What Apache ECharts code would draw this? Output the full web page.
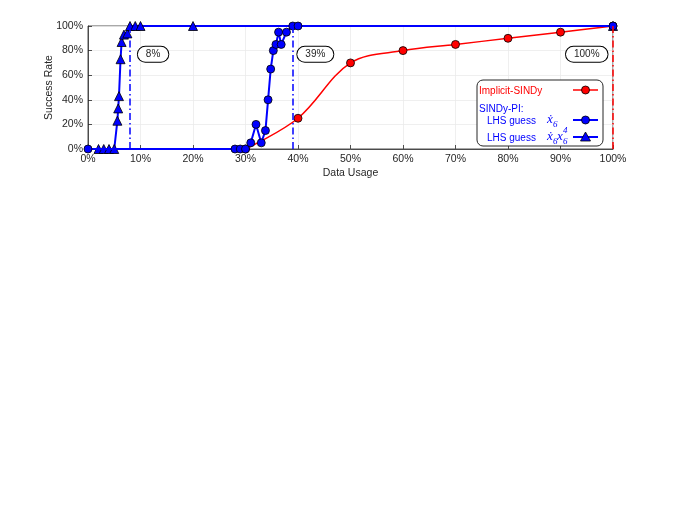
<!DOCTYPE html>
<html>
<head>
<meta charset="utf-8">
<script src="https://cdn.jsdelivr.net/npm/echarts@6/dist/echarts.min.js"></script>
<style>html,body{margin:0;padding:0;background:#fff}#c{width:677px;height:523px}</style>
</head>
<body>
<div id="c"></div>
<script>
// ---- data ----
const xTicks = [0,10,20,30,40,50,60,70,80,90,100];
const yTicks = [0,20,40,60,80,100];
const implicitX = [30,40,50,60,70,80,90,100];
const implicitY = [0,25,70,80,85,90,95,100];
const lhsDotX = [0,28,29,30,31,32,33,33.8,34.3,34.8,35.3,35.8,36.3,36.8,37.8,39,40,100];
const lhsDotY = [0,0,0,0,5,20,5,15,40,65,80,85,95,85,95,100,100,100];
const lhsQuartX = [2,3,4,5,5.6,5.75,5.9,6.2,6.4,6.85,7.5,8,9,10,20,100];
const lhsQuartY = [0,0,0,0,23,33,43,73,87,93,94,100,100,100,100,100];
const thresholds = [8,39,100];
const thresholdLabels = ['8%','39%','100%'];
const labelX = [12.4,43.3,95];
const labelY = 77;

const pair = (xs, ys) => xs.map((x,i)=>[x, ys[i]]);
const FONT = 'Liberation Sans, Arial, sans-serif';
const DASHDOT = [7,3,1.5,3];

function vline(x, color){
  return {
    silent:true, symbol:['none','none'], label:{show:false},
    lineStyle:{color:color, width:1.5, type:DASHDOT},
    data:[[{coord:[x,0]},{coord:[x,100]}]]
  };
}
function boxLabel(i){
  return {
    silent:true,
    symbol:'circle', symbolSize:0,
    data:[{coord:[labelX[i], labelY], value:thresholdLabels[i]}],
    label:{show:true, position:'inside', formatter:'{c}', color:'#262626', fontFamily:FONT, fontSize:10,
      backgroundColor:'#fff', borderColor:'#000', borderWidth:1, borderRadius:8, padding:[3,8,2,8]}
  };
}

const chart = echarts.init(document.getElementById('c'), null, {renderer:'canvas'});
const option = {
  animation:false,
  textStyle:{fontFamily:FONT},
  grid:{left:88, right:64, top:26, bottom:374, show:true, borderColor:'#262626', borderWidth:0.8, backgroundColor:'transparent'},
  xAxis:{
    type:'value', min:0, max:100, interval:10,
    name:'Data Usage', nameLocation:'middle', nameGap:19, nameMoveOverlap:false,
    nameTextStyle:{color:'#262626', fontSize:10.5, fontFamily:FONT},
    axisLine:{show:true, lineStyle:{color:'#262626', width:0.8}},
    axisTick:{show:true, inside:true, length:4, lineStyle:{color:'#262626', width:0.8}},
    axisLabel:{color:'#262626', fontSize:10.5, fontFamily:FONT, margin:5, formatter:v=>v+'%'},
    splitLine:{show:true, lineStyle:{color:'#ebebeb', width:0.8}}
  },
  yAxis:{
    type:'value', min:0, max:100, interval:20,
    name:'Success Rate', nameLocation:'middle', nameGap:33, nameMoveOverlap:false,
    nameTextStyle:{color:'#262626', fontSize:10.5, fontFamily:FONT},
    axisLine:{show:true, lineStyle:{color:'#262626', width:0.8}},
    axisTick:{show:true, inside:true, length:4, lineStyle:{color:'#262626', width:0.8}},
    axisLabel:{color:'#262626', fontSize:10.5, fontFamily:FONT, margin:5, formatter:v=>v+'%'},
    splitLine:{show:true, lineStyle:{color:'#ebebeb', width:0.8}}
  },
  series:[
    {
      name:'Implicit-SINDy', type:'line', smooth:0.35,
      data:pair(implicitX, implicitY),
      lineStyle:{color:'#ff0000', width:1.5},
      symbol:'circle', symbolSize:8, showAllSymbol:true,
      itemStyle:{color:'#ff0000', borderColor:'#000', borderWidth:0.8},
      markLine:vline(thresholds[2], '#ff0000'),
      markPoint:boxLabel(2), z:2
    },
    {
      name:'LHS quartic', type:'line',
      data:pair(lhsQuartX, lhsQuartY),
      lineStyle:{color:'#0000ff', width:2},
      symbol:'triangle', symbolSize:9, showAllSymbol:true,
      itemStyle:{color:'#0000ff', borderColor:'#000', borderWidth:0.8},
      markLine:vline(thresholds[0], '#0000ff'),
      markPoint:boxLabel(0), z:3
    },
    {
      name:'LHS dot', type:'line',
      data:pair(lhsDotX, lhsDotY),
      lineStyle:{color:'#0000ff', width:2},
      symbol:'circle', symbolSize:8, showAllSymbol:true,
      itemStyle:{color:'#0000ff', borderColor:'#000', borderWidth:0.8},
      markLine:vline(thresholds[1], '#0000ff'),
      markPoint:boxLabel(1), z:4
    }
  ]
};
chart.setOption(option);

// legend drawn as graphic
const L = {x:477, y:80, w:126, h:66};
const mathFont = 'italic 13px "Liberation Serif", "DejaVu Serif", serif';
const subFont = 'italic 9px "Liberation Serif", "DejaVu Serif", serif';
function txt(t, x, y, color, font){
  return {type:'text', z:100, style:{text:t, x:x, y:y, fill:color, font:font || ('10px ' + FONT), verticalAlign:'middle', textAlign:'left'}};
}
const g = [
  {type:'rect', z:99, shape:{x:L.x, y:L.y, width:L.w, height:L.h, r:6}, style:{fill:'#fff', stroke:'#262626', lineWidth:1}},
  txt('Implicit-SINDy', 479, 91, '#ff0000'),
  {type:'line', z:100, shape:{x1:573, y1:90, x2:598, y2:90}, style:{stroke:'#ff0000', lineWidth:1.5}},
  {type:'circle', z:101, shape:{cx:585.5, cy:90, r:4}, style:{fill:'#ff0000', stroke:'#000', lineWidth:0.8}},
  txt('SINDy-PI:', 479, 109, '#0000ff'),
  txt('LHS guess', 487, 121, '#0000ff'),
  txt('x\u0307', 547, 120, '#0000ff', mathFont),
  txt('6', 553, 125, '#0000ff', subFont),
  {type:'line', z:100, shape:{x1:573, y1:120, x2:598, y2:120}, style:{stroke:'#0000ff', lineWidth:2}},
  {type:'circle', z:101, shape:{cx:585.5, cy:120, r:4}, style:{fill:'#0000ff', stroke:'#000', lineWidth:0.8}},
  txt('LHS guess', 487, 138, '#0000ff'),
  txt('x\u0307', 547, 137, '#0000ff', mathFont),
  txt('6', 553, 142, '#0000ff', subFont),
  txt('x', 557, 137, '#0000ff', mathFont),
  txt('6', 563, 142, '#0000ff', subFont),
  txt('4', 563, 131, '#0000ff', subFont),
  {type:'line', z:100, shape:{x1:573, y1:137, x2:598, y2:137}, style:{stroke:'#0000ff', lineWidth:2}},
  {type:'polygon', z:101, shape:{points:[[585.5,132],[590.5,141],[580.5,141]]}, style:{fill:'#0000ff', stroke:'#000', lineWidth:0.8}}
];
chart.setOption({graphic:g});
</script>
</body>
</html>
